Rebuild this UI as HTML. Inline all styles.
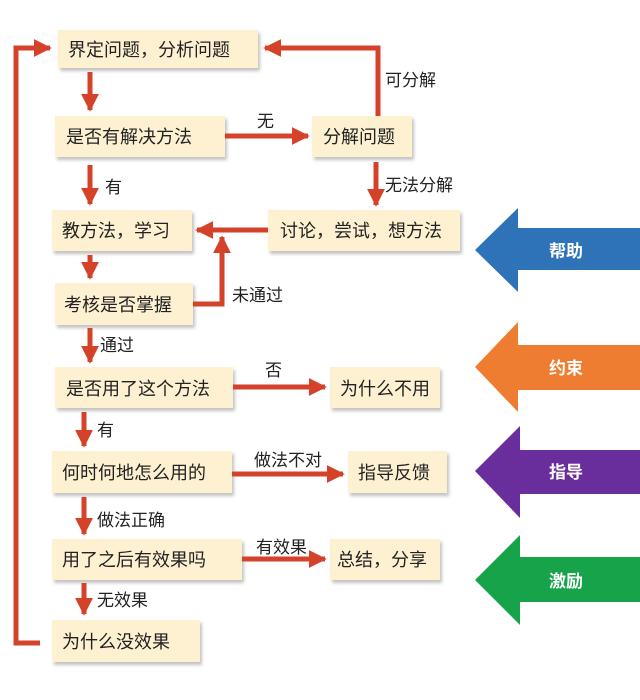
<!DOCTYPE html>
<html><head><meta charset="utf-8"><style>
html,body{margin:0;padding:0;background:#fff;}
text{font-family:"Liberation Sans","Noto Sans CJK SC",sans-serif;}
</style></head><body>
<svg width="640" height="695" viewBox="0 0 640 695" xmlns="http://www.w3.org/2000/svg">
<defs>
<marker id="a" viewBox="0 0 10 10" refX="9" refY="5" markerWidth="3.6" markerHeight="3.6" orient="auto" markerUnits="strokeWidth"><path d="M0,0 L10,5 L0,10 z" fill="#d5422a"/></marker>
<filter id="s" x="-10%" y="-10%" width="130%" height="140%"><feDropShadow dx="2" dy="3" stdDeviation="1.5" flood-color="#999" flood-opacity="0.6"/></filter>
</defs>
<g fill="#fdf1d2" filter="url(#s)">
<rect x="58" y="30" width="200" height="38"/>
<rect x="55" y="116" width="170" height="41"/>
<rect x="312" y="116" width="100" height="41"/>
<rect x="52" y="210" width="140" height="41"/>
<rect x="268" y="210" width="192" height="41"/>
<rect x="55" y="283" width="138" height="42"/>
<rect x="55" y="367" width="178" height="41"/>
<rect x="330" y="367" width="110" height="41"/>
<rect x="52" y="451" width="180" height="42"/>
<rect x="348" y="451" width="99" height="42"/>
<rect x="52" y="539" width="190" height="41"/>
<rect x="330" y="539" width="110" height="41"/>
<rect x="52" y="620" width="148" height="42"/>
</g>
<g stroke="#d5422a" stroke-width="5" fill="none">
<polyline points="40,643 16,643 16,48 50,48" marker-end="url(#a)"/>
<polyline points="378,116 378,48 265,48" marker-end="url(#a)"/>
<line x1="90" y1="72" x2="90" y2="110" marker-end="url(#a)"/>
<line x1="225" y1="136" x2="308" y2="136" marker-end="url(#a)"/>
<line x1="90" y1="165" x2="90" y2="204" marker-end="url(#a)"/>
<line x1="376" y1="162" x2="376" y2="205" marker-end="url(#a)"/>
<line x1="268" y1="230" x2="197" y2="230" marker-end="url(#a)"/>
<line x1="90" y1="255" x2="90" y2="278" marker-end="url(#a)"/>
<polyline points="193,304 222,304 222,237" marker-end="url(#a)"/>
<line x1="90" y1="328" x2="90" y2="362" marker-end="url(#a)"/>
<line x1="233" y1="387" x2="325" y2="387" marker-end="url(#a)"/>
<line x1="84" y1="412" x2="84" y2="446" marker-end="url(#a)"/>
<line x1="232" y1="474" x2="343" y2="474" marker-end="url(#a)"/>
<line x1="84" y1="497" x2="84" y2="534" marker-end="url(#a)"/>
<line x1="242" y1="559" x2="325" y2="559" marker-end="url(#a)"/>
<line x1="84" y1="583" x2="84" y2="614" marker-end="url(#a)"/>
</g>
<g font-size="18" fill="#222">
<text x="68" y="56">界定问题，分析问题</text>
<text x="66" y="143">是否有解决方法</text>
<text x="323" y="143">分解问题</text>
<text x="62" y="237">教方法，学习</text>
<text x="280" y="237">讨论，尝试，想方法</text>
<text x="64" y="311">考核是否掌握</text>
<text x="66" y="395">是否用了这个方法</text>
<text x="340" y="395">为什么不用</text>
<text x="62" y="479">何时何地怎么用的</text>
<text x="358" y="479">指导反馈</text>
<text x="62" y="566">用了之后有效果吗</text>
<text x="337" y="566">总结，分享</text>
<text x="62" y="648">为什么没效果</text>
</g>
<g font-size="17" fill="#222">
<text x="385" y="86">可分解</text>
<text x="257" y="127">无</text>
<text x="105" y="193">有</text>
<text x="385" y="191">无法分解</text>
<text x="232" y="301">未通过</text>
<text x="100" y="351">通过</text>
<text x="265" y="376">否</text>
<text x="97" y="436">有</text>
<text x="254" y="466">做法不对</text>
<text x="97" y="526">做法正确</text>
<text x="256" y="553">有效果</text>
<text x="97" y="606">无效果</text>
</g>
<polygon points="475,250 518,208 518,228 640,228 640,270 518,270 518,292" fill="#2e73b8"/>
<polygon points="475,367 518,322 518,345 640,345 640,390 518,390 518,412" fill="#ee7d31"/>
<polygon points="475,471 520,426 520,450 640,450 640,494 520,494 520,518" fill="#6a2e9c"/>
<polygon points="475,580 520,535 520,557 640,557 640,602 520,602 520,625" fill="#17a34a"/>
<g font-size="17" font-weight="bold" fill="#fff" text-anchor="middle">
<text x="566" y="257">帮助</text>
<text x="566" y="374">约束</text>
<text x="566" y="478">指导</text>
<text x="566" y="587">激励</text>
</g>
</svg>
</body></html>
